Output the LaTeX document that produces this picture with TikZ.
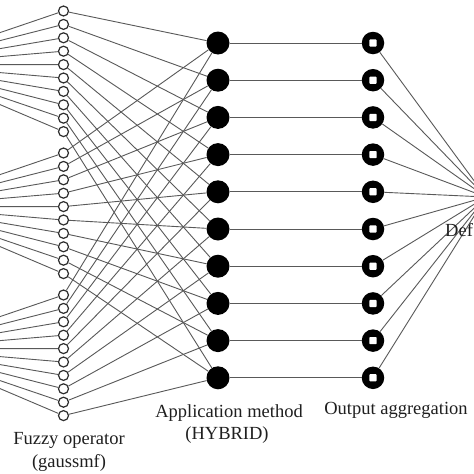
\documentclass[tikz,border=0pt]{standalone}
\usepackage{fontspec}
\setmainfont{Liberation Serif}
\begin{document}
\begin{tikzpicture}[x=1pt,y=-1pt,
  conn/.style={draw=black!65, line width=0.9pt},
  mf/.style={circle, draw=black!82, line width=1.2pt, fill=white, minimum size=10pt, inner sep=0pt},
  rulenode/.style={circle, fill=black, minimum size=23pt, inner sep=0pt},
  aggnode/.style={circle, fill=black, minimum size=22.5pt, inner sep=0pt,
    path picture={\fill[white, rounded corners=0.8pt] ([shift={(-3.6pt,-3.6pt)}]path picture bounding box.center) rectangle ++(7.2pt,7.2pt);}},
  lbl/.style={font=\fontsize{18.5}{22}\selectfont, text=black!88, inner sep=0pt, anchor=base}
]
\useasboundingbox (0,0) rectangle (474,474);
\clip (0,0) rectangle (474,474);
\fill[white] (0,0) rectangle (474,474);

% inputs (off picture)
\foreach \g in {1,2,3}{
  \coordinate (in\g) at (-94, {(\g-1)*142 + 64.6});
}
% membership functions
\foreach \g in {1,2,3}{
  \foreach \i in {1,...,10}{
    \node[mf] (m\g-\i) at (63.5, {(\g-1)*142 + 11 + (\i-1)*13.4}) {};
  }
}
% rules and aggregation
\foreach \i in {1,...,10}{
  \node[rulenode] (r\i) at (218, {43 + (\i-1)*37.2}) {};
  \node[aggnode] (a\i) at (373, {43 + (\i-1)*37.2}) {};
}
\coordinate (dz) at (486,197);

% connectors
\foreach \g in {1,2,3}{
  \foreach \i in {1,...,10}{
    \draw[conn] (in\g) -- (m\g-\i);
    \draw[conn] (m\g-\i) -- (r\i);
  }
}
\foreach \i in {1,...,10}{
  \draw[conn] (r\i) -- (a\i);
  \draw[conn] (a\i) -- (dz);
}

% labels
\node[lbl] (lf1) at (69,444) {Fuzzy operator};
\node[lbl] (lf2) at (69,467) {(gaussmf)};
\node[lbl] (la1) at (229,417) {Application method};
\node[lbl] (la2) at (227,439) {(HYBRID)};
\node[lbl] (lo1) at (396,414) {Output aggregation};
\node[lbl, anchor=base west] (ld) at (445,236) {Def};
\end{tikzpicture}
\end{document}
